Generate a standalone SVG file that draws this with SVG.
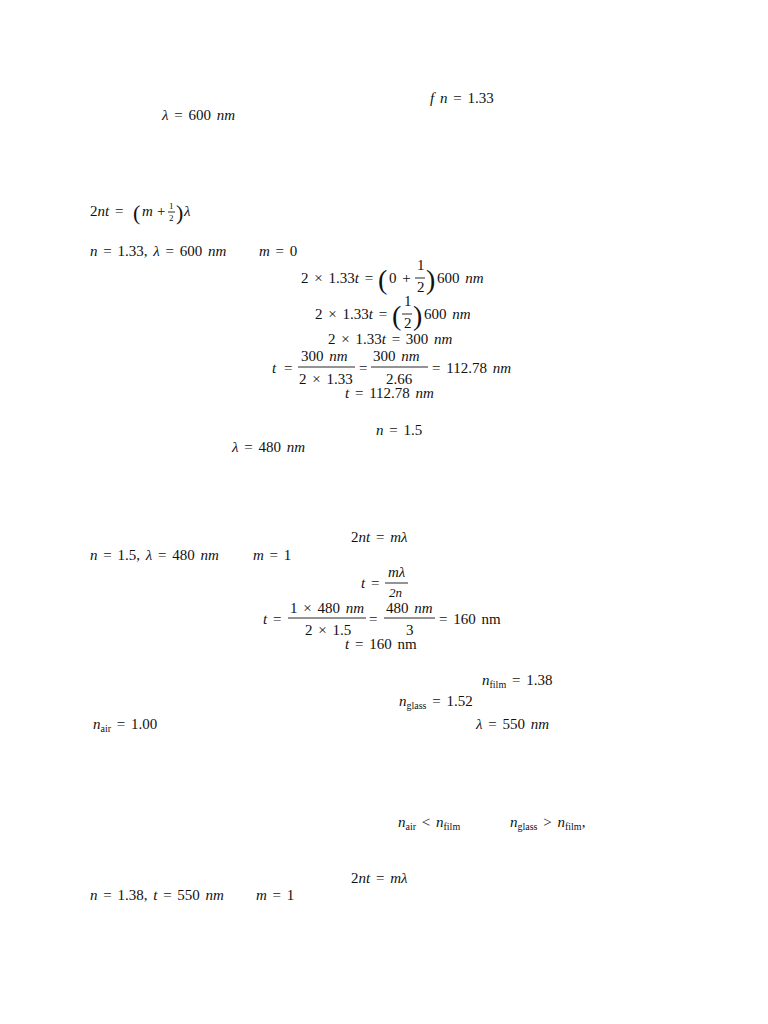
<svg xmlns="http://www.w3.org/2000/svg" width="768" height="1024" viewBox="0 0 768 1024">
<style>
text{font-family:"Liberation Serif","DejaVu Serif",serif;font-size:15px;fill:#111;word-spacing:2px}
.i{font-style:italic}
.s{font-size:10px}
.f{font-size:9px}
.p{font-size:28px}
.p2{font-size:22px}
.sm{font-size:13px}
line{stroke:#111;stroke-width:0.9}
</style>
<rect width="768" height="1024" fill="#fff"/>
<g id="given1">
<text x="430" y="103"><tspan class="i">f n</tspan> = 1.33</text>
<text x="162" y="120"><tspan class="i">λ</tspan> = 600 <tspan class="i">nm</tspan></text>
</g>
<g id="eq1">
<text x="90" y="216">2<tspan class="i">nt</tspan> =</text>
<text x="133" y="220" class="p2">(</text>
<text x="142" y="216" class="i">m</text><text x="157" y="216">+</text>
<text x="169" y="209" class="f">1</text><line x1="168" y1="212" x2="175" y2="212"/><text x="169" y="221" class="f">2</text>
<text x="176" y="220" class="p2">)</text><text x="184" y="216" class="i">λ</text>
</g>
<g id="sol1">
<text x="90" y="256"><tspan class="i">n</tspan> = 1.33, <tspan class="i">λ</tspan> = 600 <tspan class="i">nm</tspan></text>
<text x="259" y="256"><tspan class="i">m</tspan> = 0</text>
<text x="301" y="283">2 × 1.33<tspan class="i">t</tspan> =</text>
<text x="378" y="289" class="p">(</text>
<text x="389" y="283">0 +</text>
<text x="417" y="270">1</text><line x1="415" y1="278" x2="425" y2="278"/><text x="417" y="292">2</text>
<text x="426" y="289" class="p">)</text>
<text x="437" y="283">600 <tspan class="i">nm</tspan></text>
<text x="315" y="319">2 × 1.33<tspan class="i">t</tspan> =</text>
<text x="392" y="325" class="p">(</text>
<text x="404" y="306">1</text><line x1="402" y1="314" x2="412" y2="314"/><text x="404" y="328">2</text>
<text x="413" y="325" class="p">)</text>
<text x="424" y="319">600 <tspan class="i">nm</tspan></text>
<text x="328" y="344">2 × 1.33<tspan class="i">t</tspan> = 300 <tspan class="i">nm</tspan></text>
<text x="272" y="373" class="i">t</text><text x="284" y="373">=</text>
<text x="301" y="361">300 <tspan class="i">nm</tspan></text><line x1="298" y1="367" x2="355" y2="367"/><text x="299" y="384">2 × 1.33</text>
<text x="359" y="373">=</text>
<text x="373" y="361">300 <tspan class="i">nm</tspan></text><line x1="371" y1="367" x2="428" y2="367"/><text x="386" y="384">2.66</text>
<text x="432" y="373">= 112.78 <tspan class="i">nm</tspan></text>
<text x="345" y="398"><tspan class="i">t</tspan> = 112.78 <tspan class="i">nm</tspan></text>
</g>
<g id="given2">
<text x="376" y="435"><tspan class="i">n</tspan> = 1.5</text>
<text x="232" y="452"><tspan class="i">λ</tspan> = 480 <tspan class="i">nm</tspan></text>
</g>
<g id="sol2">
<text x="351" y="542">2<tspan class="i">nt</tspan> = <tspan class="i">mλ</tspan></text>
<text x="90" y="560"><tspan class="i">n</tspan> = 1.5, <tspan class="i">λ</tspan> = 480 <tspan class="i">nm</tspan></text>
<text x="253" y="560"><tspan class="i">m</tspan> = 1</text>
<text x="361" y="588"><tspan class="i">t</tspan> =</text>
<text x="388" y="577" class="i">mλ</text><line x1="385" y1="583" x2="408" y2="583"/><text x="389" y="597" class="i sm">2n</text>
<text x="263" y="624"><tspan class="i">t</tspan> =</text>
<text x="290" y="613">1 × 480 <tspan class="i">nm</tspan></text><line x1="288" y1="618" x2="366" y2="618"/><text x="305" y="635">2 × 1.5</text>
<text x="369" y="624">=</text>
<text x="386" y="613">480 <tspan class="i">nm</tspan></text><line x1="384" y1="618" x2="435" y2="618"/><text x="406" y="635">3</text>
<text x="439" y="624">= 160 nm</text>
<text x="345" y="649"><tspan class="i">t</tspan> = 160 nm</text>
</g>
<g id="given3">
<text x="482" y="685"><tspan class="i">n</tspan><tspan class="s" dy="3">film</tspan><tspan dy="-3"> = 1.38</tspan></text>
<text x="399" y="706"><tspan class="i">n</tspan><tspan class="s" dy="3">glass</tspan><tspan dy="-3"> = 1.52</tspan></text>
<text x="93" y="729"><tspan class="i">n</tspan><tspan class="s" dy="3">air</tspan><tspan dy="-3"> = 1.00</tspan></text>
<text x="476" y="729"><tspan class="i">λ</tspan> = 550 <tspan class="i">nm</tspan></text>
</g>
<g id="sol3">
<text x="398" y="827"><tspan class="i">n</tspan><tspan class="s" dy="3">air</tspan><tspan dy="-3"> &lt; </tspan><tspan class="i">n</tspan><tspan class="s" dy="3">film</tspan></text>
<text x="510" y="827"><tspan class="i">n</tspan><tspan class="s" dy="3">glass</tspan><tspan dy="-3"> &gt; </tspan><tspan class="i">n</tspan><tspan class="s" dy="3">film</tspan><tspan dy="-3">,</tspan></text>
<text x="351" y="883">2<tspan class="i">nt</tspan> = <tspan class="i">mλ</tspan></text>
<text x="90" y="900"><tspan class="i">n</tspan> = 1.38, <tspan class="i">t</tspan> = 550 <tspan class="i">nm</tspan></text>
<text x="256" y="900"><tspan class="i">m</tspan>  = 1</text>
</g>
</svg>
